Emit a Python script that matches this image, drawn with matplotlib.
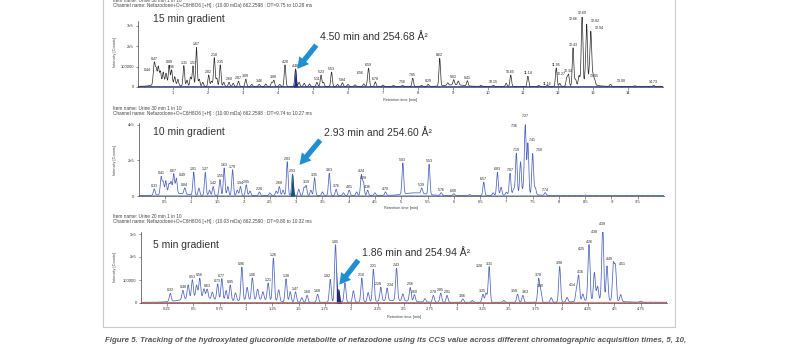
import numpy as np
import matplotlib
matplotlib.use("Agg")
import matplotlib.pyplot as plt
from matplotlib.lines import Line2D

# ---------------- data ----------------
# 15 min gradient: peak retention times (min), heights (x1e5 counts), labels
p15_t = [0.44, 0.47, 0.52, 0.58, 0.64, 0.72, 0.80, 0.89, 0.96, 1.05, 1.14, 1.31, 1.40, 1.50, 1.57,
         1.67, 1.75, 1.85, 2.02, 2.10, 2.18, 2.25, 2.35, 2.45, 2.60, 2.72, 2.87, 3.08, 3.25, 3.46,
         3.65, 3.82, 3.88, 4.05, 4.20, 4.50, 4.60, 4.75, 4.90, 5.11, 5.23, 5.30, 5.53, 5.70, 5.84,
         6.00, 6.20, 6.45, 6.56, 6.59, 6.78, 7.00, 7.30, 7.56, 7.85, 8.10, 8.29, 8.62, 8.85, 9.02,
         9.15, 9.41, 9.80, 10.15, 10.52, 10.65, 11.14, 11.45, 11.70, 11.95, 12.05, 12.25, 12.30,
         12.43, 12.50, 12.60, 12.66, 12.69, 12.78, 12.82, 12.90, 12.94, 13.00, 13.05, 13.50, 14.20, 14.73]
p15_h = [0.30, 0.95, 0.75, 0.85, 0.60, 0.55, 0.50, 0.90, 0.70, 0.40, 0.30, 1.00, 0.30, 0.45, 1.00,
         1.90, 0.35, 0.20, 0.55, 0.25, 1.40, 0.40, 1.05, 0.20, 0.20, 0.15, 0.25, 0.35, 0.10, 0.10,
         0.12, 0.20, 0.30, 0.10, 1.05, 0.85, 0.20, 0.15, 0.12, 0.20, 0.55, 0.20, 0.70, 0.10, 0.18,
         0.10, 0.08, 0.12, 0.20, 0.80, 0.22, 0.06, 0.05, 0.05, 0.40, 0.05, 0.10, 1.35, 0.12, 0.25,
         0.18, 0.25, 0.05, 0.05, 0.15, 0.55, 0.50, 0.05, 0.05, 0.90, 0.15, 0.40, 0.55,
         1.85, 0.30, 0.45, 0.40, 3.20, 0.45, 2.85, 0.70, 2.45, 0.50, 0.25, 0.10, 0.03, 0.05]
p15_lab = ["0.44", "0.47", "", "", "", "", "", "0.89", "0.96", "", "", "1.31", "", "", "1.57",
           "1.67", "", "", "2.02", "", "2.18", "", "2.35", "", "2.60", "", "2.87", "3.08", "", "3.46",
           "", "", "3.88", "", "4.20", "4.48", "", "", "", "5.11", "5.23", "", "5.53", "", "5.84",
           "", "", "", "6.56", "6.59", "6.78", "", "", "7.56", "7.85", "", "8.29", "8.62", "", "9.02",
           "", "9.41", "", "10.15", "", "10.65", "11.14", "11.16", "", "11.95", "", "12.27", "12.34",
           "12.43", "", "", "12.66", "12.69", "", "12.82", "", "12.94", "", "13.05", "13.08", "", "14.73"]
p15_bg_t = [0.75, 9.05, 12.8]
p15_bg_h = [0.15, 0.08, 0.10]

# 10 min gradient
p10_t = [0.30, 0.43, 0.47, 0.52, 0.58, 0.62, 0.67, 0.72, 0.88, 1.05, 1.15, 1.27, 1.35, 1.42, 1.55,
         1.63, 1.70, 1.79, 1.88, 1.94, 2.05, 2.12, 2.30, 2.50, 2.62, 2.68, 2.75, 2.83, 2.93, 3.05,
         3.15, 3.19, 3.28, 3.35, 3.50, 3.63, 3.76, 3.90, 4.01, 4.15, 4.24, 4.28, 4.36, 4.50, 4.70,
         5.03, 5.39, 5.53, 5.76, 6.00, 6.30, 6.57, 6.75, 6.83, 6.90, 7.00, 7.07, 7.14, 7.19, 7.27,
         7.33, 7.36, 7.41, 7.50, 7.55, 7.74, 8.50]
p10_h = [0.35, 1.00, 0.70, 0.75, 0.55, 0.65, 1.10, 0.85, 0.35, 1.30, 0.40, 1.30, 0.30, 0.50, 0.90,
         1.55, 0.50, 1.45, 0.30, 0.50, 0.60, 0.25, 0.20, 0.15, 0.25, 0.50, 0.30, 1.90, 1.20, 0.35,
         0.45, 0.55, 0.30, 1.00, 0.20, 1.25, 0.35, 0.15, 0.30, 0.20, 1.15, 0.75, 0.30, 0.15, 0.20,
         1.75, 0.30, 1.70, 0.15, 0.10, 0.05, 0.75, 0.15, 1.30, 0.45, 0.15, 1.20, 0.30, 2.30, 1.80,
         0.40, 3.80, 2.85, 2.30, 0.40, 0.15, 0.03]
p10_lab = ["0.33", "0.41", "", "", "", "", "0.67", "0.49", "0.84", "1.01", "", "1.27", "", "1.42", "1.55",
           "1.63", "", "1.79", "", "1.94", "2.05", "", "2.20", "", "", "2.68", "", "2.83", "2.93", "",
           "", "3.19", "", "3.35", "", "3.63", "3.76", "", "4.01", "", "4.24", "4.28", "4.36", "", "4.70",
           "5.03", "5.39", "5.53", "5.76", "6.00", "", "6.57", "", "6.83", "", "", "7.07", "", "7.19", "",
           "7.36", "7.27", "7.41", "7.50", "", "7.74", ""]
p10_bg_t = [0.7, 5.25, 7.3]
p10_bg_h = [0.12, 0.15, 0.10]

# 5 min gradient
p5_t = [0.28, 0.40, 0.45, 0.49, 0.53, 0.56, 0.60, 0.63, 0.68, 0.73, 0.77, 0.81, 0.85, 0.90, 0.96,
        1.01, 1.06, 1.11, 1.16, 1.21, 1.26, 1.31, 1.38, 1.42, 1.47, 1.53, 1.58, 1.68, 1.80, 1.85,
        1.88, 1.94, 2.02, 2.10, 2.16, 2.21, 2.28, 2.34, 2.43, 2.49, 2.56, 2.60, 2.70, 2.78, 2.85,
        2.91, 3.06, 3.15, 3.25, 3.28, 3.31, 3.45, 3.58, 3.63, 3.78, 3.80, 3.90, 3.98, 4.05, 4.14,
        4.16, 4.20, 4.25, 4.26, 4.31, 4.34, 4.38, 4.39, 4.43, 4.49, 4.51, 4.56, 4.75]
p5_h = [0.35, 0.40, 0.60, 0.80, 0.55, 0.85, 0.40, 0.40, 0.30, 0.70, 0.95, 0.45, 0.70, 0.35, 1.45,
        0.55, 0.95, 0.45, 0.35, 0.75, 1.85, 0.50, 1.00, 0.45, 0.45, 0.20, 0.30, 0.35, 1.00, 2.50,
        0.55, 0.85, 0.50, 1.05, 0.40, 1.40, 0.60, 0.55, 1.40, 0.30, 0.60, 0.30, 0.15, 0.30, 0.40,
        0.30, 0.15, 0.08, 0.35, 0.40, 1.55, 0.08, 0.35, 0.30, 1.00, 0.50, 0.20, 1.55, 0.20, 0.50,
        1.10, 0.30, 0.40, 2.20, 1.20, 0.60, 0.30, 3.00, 1.50, 1.55, 1.45, 0.30, 0.05]
p5_lab = ["0.32", "0.48", "", "0.53", "", "0.56", "", "0.63", "", "0.73", "0.77", "", "0.85", "", "0.96",
          "", "1.06", "", "", "1.21", "1.26", "", "1.38", "", "1.47", "", "1.60", "1.68", "1.82", "1.85",
          "", "1.94", "", "2.10", "", "2.21", "2.28", "2.34", "2.43", "", "2.56", "2.60", "", "2.78", "2.85",
          "2.91", "3.06", "", "3.25", "3.28", "3.31", "", "3.58", "3.63", "3.78", "3.80", "", "3.98", "", "4.14",
          "4.16", "", "4.25", "4.26", "", "", "4.38", "4.39", "", "4.49", "4.51", "", ""]
p5_bg_t = [0.55, 1.1, 2.4, 4.35]
p5_bg_h = [0.20, 0.12, 0.08, 0.10]

# label nudges (points) for crowded labels
nudge15 = {"0.44": (-4, -2), "12.66": (-6, 21), "12.82": (6, 0), "12.94": (6, 0), "12.27": (-4, 0),
           "13.08": (8, 0), "11.16": (6, -1), "6.56": (-5, 0)}
nudge10 = {"0.49": (4, 0), "7.36": (-7, 33), "7.27": (0, 4), "7.41": (3, 0), "7.50": (5, 0)}
nudge5 = {"4.49": (-3, 0), "4.51": (5, -2), "3.58": (-2, 0), "3.63": (2, 0), "4.25": (-5, 9),
          "4.38": (-5, 15), "3.28": (-5, 17), "4.14": (-3, 0), "4.16": (1, 0), "2.28": (-2, 0),
          "2.34": (2, 0), "1.82": (-2, 0)}

# ---------------- helpers ----------------
W, H = 800, 345
fig = plt.figure(figsize=(8, 3.45), dpi=100)
fig.patch.set_facecolor("white")
plt.rcParams["font.family"] = ["Liberation Sans", "DejaVu Sans"]

def rect(l, t, r, b):
    return [l / W, 1 - b / H, (r - l) / W, (b - t) / H]

def fx(x):
    return x / W

def fy(y):
    return 1 - y / H

ARROW = "#1f8fd2"
TXT = "#333333"

# outer frame
for xs, ys in [([103, 103], [0, 327]), ([675, 675], [0, 327]), ([103, 675], [327, 327])]:
    fig.add_artist(Line2D([fx(v) for v in xs], [fy(v) for v in ys], color="#c9c9c9", lw=0.8))


def draw_panel(box, xmax, ytop, spine_top, ticks, ticklabels, xmaj, xmin_step, xfmt,
               pt, ph, plab, bgt, bgh, sig, bgsig, color, lw, target, fillcol, nudge,
               base_kind, header, title, title_y, ann, ann_xy, ann_tail, ann_y, xlabel_y):
    ax = fig.add_axes(rect(*box))
    tt = np.linspace(0, xmax, 8000)
    y = np.zeros_like(tt)
    for t0, h0 in zip(bgt, bgh):
        y += h0 * 1e5 * np.exp(-0.5 * ((tt - t0) / bgsig) ** 2)
    y += 0.03e5
    for t0, h0 in zip(pt, ph):
        y += h0 * 1e5 * np.exp(-0.5 * ((tt - t0) / sig) ** 2)

    if base_kind == "blue":
        ax.fill_between(tt, 0, 0.06e5, color="#aebde9", lw=0, zorder=1)
        ax.plot(tt, np.full_like(tt, 0.004e5), color="#23308a", lw=0.9, zorder=4)
    elif base_kind == "red":
        ax.plot(tt, 0.02e5 + 0.01e5 * tt / xmax, color="#d9534f", lw=0.6, zorder=4)
    else:
        ax.plot(tt, np.full_like(tt, 0.02e5), color="#7a8fd8", lw=0.5, zorder=1)

    m = np.abs(tt - target) < 2.5 * sig
    ax.fill_between(tt[m], 0, y[m], color=fillcol, lw=0, zorder=3)
    ax.plot(tt, y, color=color, lw=lw, zorder=2)

    for t0, lab in zip(pt, plab):
        if not lab:
            continue
        i = np.argmin(np.abs(tt - t0))
        dx, dy = nudge.get(lab, (0, 0))
        ax.annotate(lab, (t0, y[i]), xytext=(dx, 0.8 + dy), textcoords="offset points",
                    ha="center", va="bottom", fontsize=2.6, color="#222", zorder=5,
                    annotation_clip=False)

    ax.set_xlim(0, xmax)
    ax.set_ylim(0, ytop)
    for s in ["top", "right"]:
        ax.spines[s].set_visible(False)
    ax.spines["left"].set_bounds(0, spine_top)
    for s in ["left", "bottom"]:
        ax.spines[s].set_linewidth(0.5)
        ax.spines[s].set_color("#444")
    ax.set_yticks(ticks)
    ax.set_yticklabels(ticklabels)
    xt = np.arange(xmaj, xmax - 1e-6, xmaj)
    ax.set_xticks(xt)
    ax.set_xticklabels([xfmt(v) for v in xt])
    ax.set_xticks(np.arange(0, xmax + 1e-6, xmin_step), minor=True)
    ax.tick_params(axis="both", which="major", labelsize=3, length=1.8, width=0.4, pad=1.2,
                   colors="#444", labelcolor="#333")
    ax.tick_params(axis="both", which="minor", length=1.0, width=0.3, colors="#666")
    ax.set_facecolor("none")

    l, t, r, b = box
    fig.text(fx(113), fy(header[2]), header[0], fontsize=3.4, color="#444", va="center")
    fig.text(fx(113), fy(header[3]), header[1], fontsize=3.4, color="#444", va="center")
    fig.text(fx(153), fy(title_y), title, fontsize=7.5, color=TXT, va="center")
    fig.text(fx(ann_tail[0] + 2), fy(ann_y), ann, fontsize=7.5, color=TXT, va="center")
    ax.annotate("", xy=ann_xy, xycoords="data",
                xytext=(fx(ann_tail[0]), fy(ann_tail[1])), textcoords="figure fraction",
                arrowprops=dict(arrowstyle="simple,head_length=0.8,head_width=0.9,tail_width=0.38",
                                color=ARROW, lw=0, mutation_scale=10), zorder=6)
    fig.text(fx(115), fy((t + b) / 2), "Intensity [Counts]", fontsize=2.8, rotation=90,
             color="#444", va="center", ha="center")
    fig.text(fx((l + r) / 2), fy(xlabel_y), "Retention time [min]", fontsize=2.8,
             color="#444", va="center", ha="center")
    return ax


fmt_int = lambda v: f"{v:g}"

draw_panel((138, 17.3, 663, 87), 15, 3.4e5, 3.2e5, [0, 1e5, 2e5, 3e5],
           ["0", "100000", "2e5", "3e5"], 1, 0.2, fmt_int,
           p15_t, p15_h, p15_lab, p15_bg_t, p15_bg_h, 0.022, 0.25, "#2a2a2a", 0.5, 4.50, "#1e2a8c",
           nudge15, "blue",
           ("Item name: Urine 30 min 1 in 10",
            "Channel name: Nefazodone+O+C6H8O6 [+H] : (10.00 mDa) 662.2598 : DT=9.75 to 10.28 ms", 1, 6),
           "15 min gradient", 19, "4.50 min and 254.68 Å²", (4.50, 0.78e5), (318, 43), 37, 100)

draw_panel((138.5, 123.2, 664, 196), 10, 4.1e5, 4.1e5, [0, 2e5, 4e5],
           ["0", "2e5", "4e5"], 0.5, 0.1, fmt_int,
           p10_t, p10_h, p10_lab, p10_bg_t, p10_bg_h, 0.016, 0.2, "#4d63c0", 0.55, 2.93, "#12506a",
           nudge10, "plain",
           ("Item name: Urine 30 min 1 in 10",
            "Channel name: Nefazodone+O+C6H8O6 [+H] : (10.00 mDa) 662.2598 : DT=9.74 to 10.27 ms", 108, 114),
           "10 min gradient", 132, "2.93 min and 254.60 Å²", (3.03, 1.63e5), (322, 138), 133, 208)

draw_panel((140.8, 231.7, 667, 303), 5, 3.1e5, 3.1e5, [0, 1e5, 2e5, 3e5],
           ["0", "100000", "2e5", "3e5"], 0.25, 0.05, fmt_int,
           p5_t, p5_h, p5_lab, p5_bg_t, p5_bg_h, 0.009, 0.15, "#4d63c0", 0.55, 1.88, "#232a6e",
           nudge5, "red",
           ("Item name: Urine 20 min 1 in 10",
            "Channel name: Nefazodone+O+C6H8O6 [+H] : (10.03 mDa) 662.2590 : DT=9.80 to 10.32 ms", 216, 222),
           "5 min gradient", 245, "1.86 min and 254.94 Å²", (1.87, 0.70e5), (360, 258), 253, 317)

fig.text(fx(105), fy(341), "Figure 5. Tracking of the hydroxylated glucoronide metabolite of nefazodone "
         "using its CCS value across different chromatographic acquisition times, 5, 10,",
         fontsize=5.65, style="italic", color="#555", va="center", weight="bold")

fig.savefig("out.png", dpi=100, facecolor="white")
